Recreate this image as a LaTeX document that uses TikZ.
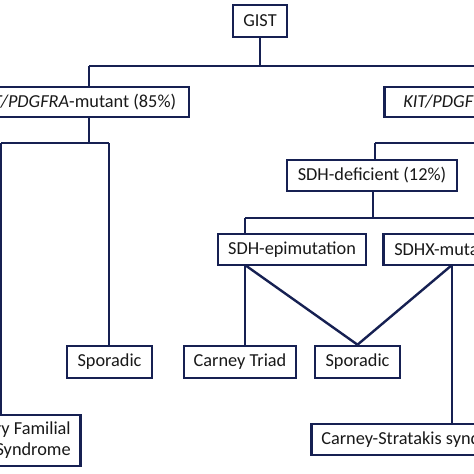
\documentclass[tikz,border=0pt]{standalone}
\usepackage{fontspec}
\setmainfont{Carlito}
\definecolor{navy}{RGB}{22,32,82}
\definecolor{txt}{RGB}{25,25,25}
\begin{document}
\begin{tikzpicture}[x=1pt,y=-1pt,
  box/.style={draw=navy,line width=2.6pt,fill=white,text=txt,inner sep=0pt,
    font=\fontsize{18.3}{22}\selectfont},
  conn/.style={draw=navy,line width=2.4pt}]
\useasboundingbox (0,0) rectangle (474,474);
\clip (0,0) rectangle (474,474);
\fill[white] (0,0) rectangle (474,474);
% coordinates for junctions
\coordinate (j1) at (260,66);
\coordinate (j1l) at (89,66);
\coordinate (j1r) at (480,66);
\coordinate (j2) at (89,143);
\coordinate (j2l) at (1,143);
\coordinate (j2r) at (109,143);
\coordinate (j3) at (375,143);
\coordinate (j3r) at (480,143);
\coordinate (j4) at (373,218);
\coordinate (j4l) at (245,218);
\coordinate (j4r) at (480,218);
\coordinate (x1) at (452,265);
\coordinate (x2) at (452,424);
\coordinate (e1) at (245,265);
\coordinate (e2) at (245,346);
% connectors (drawn first, boxes cover ends)
\draw[conn] (260,37) -- (j1);
\draw[conn] (j1l) -- (j1r);
\draw[conn] (j1l) -- (89,88);
\draw[conn] (89,116) -- (j2);
\draw[conn] (j2l) -- (j2r);
\draw[conn] (j2r) -- (109,347);
\draw[conn] (j2l) -- (1,416);
\draw[conn] (j3) -- (j3r);
\draw[conn] (j3) -- (375,161);
\draw[conn] (373,190) -- (j4);
\draw[conn] (j4l) -- (j4r);
\draw[conn] (j4l) -- (245,235);
% nodes
\node[box,minimum width=54pt,minimum height=32pt] (gist) at (260,21) {GIST};
\node[box,minimum width=223pt,minimum height=30pt] (mut) at (77.5,102) {\textit{KIT/PDGFRA}-mutant (85\%)};
\node[box,anchor=west,inner xsep=19pt,minimum height=30pt] (wt) at (383,102) {\textit{KIT/PDGFRA}-wildtype (15\%)};
\node[box,minimum width=170pt,minimum height=31pt] (sdh) at (372,175.5) {SDH-deficient (12\%)};
\node[box,minimum width=148pt,minimum height=31pt] (epi) at (292,249.5) {SDH-epimutation};
\node[box,anchor=west,inner xsep=11pt,minimum height=31pt] (sdhx) at (382,249.5) {SDHX-mutant};
\node[box,minimum width=85pt,minimum height=32pt] (spor1) at (109.5,362) {Sporadic};
\node[box,minimum width=112pt,minimum height=32pt] (triad) at (240,362) {Carney Triad};
\node[box,minimum width=85pt,minimum height=32pt] (spor2) at (357.5,362) {Sporadic};
\node[box,anchor=west,inner xsep=10pt,minimum height=31pt] (cs) at (310,439.5) {Carney-Stratakis syndrome};
\node[box,anchor=east,inner xsep=10pt,minimum height=51pt,align=right,
  font=\fontsize{18.3}{21}\selectfont] (her) at (82,440.5) {Hereditary Familial\\GIST Syndrome};
% connectors from lower boxes
\draw[conn] (e1) -- (e2);
\draw[conn] (e1) -- (spor2.north);
\draw[conn] (x1) -- (spor2.north);
\draw[conn] (x1) -- (x2);
\end{tikzpicture}
\end{document}
